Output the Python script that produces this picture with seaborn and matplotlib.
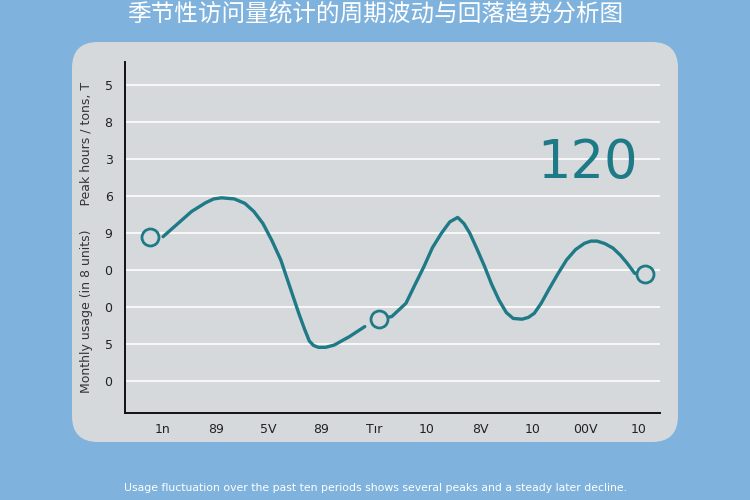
import numpy as np
import pandas as pd
import matplotlib
matplotlib.use('Agg')
import matplotlib.pyplot as plt
from matplotlib.patches import FancyBboxPatch
import seaborn as sns

# values (x in tick steps, y in gridline steps)
seg_a_x = [0.00, 0.27, 0.54, 0.81, 0.96, 1.11, 1.35, 1.55, 1.72, 1.89, 2.06, 2.23, 2.40,
           2.57, 2.68, 2.77, 2.85, 2.94, 3.08, 3.24, 3.53, 3.82]
seg_a_y = [3.90, 4.24, 4.58, 4.82, 4.92, 4.95, 4.92, 4.80, 4.58, 4.26, 3.80, 3.27, 2.55,
           1.83, 1.40, 1.08, 0.96, 0.91, 0.91, 0.97, 1.20, 1.47]
seg_b_x = [4.08, 4.33, 4.60, 4.77, 4.94, 5.10, 5.27, 5.43, 5.58, 5.70, 5.81, 5.95, 6.09,
           6.22, 6.36, 6.50, 6.63, 6.80, 6.92, 7.03, 7.16, 7.30, 7.47, 7.64, 7.81, 7.98,
           8.10, 8.22, 8.37, 8.52, 8.66, 8.79, 8.93, 9.13]
seg_b_y = [1.68, 1.74, 2.10, 2.60, 3.09, 3.60, 3.99, 4.30, 4.42, 4.25, 3.99, 3.55, 3.09,
           2.62, 2.19, 1.85, 1.69, 1.67, 1.72, 1.83, 2.10, 2.46, 2.88, 3.27, 3.55, 3.72,
           3.78, 3.78, 3.71, 3.59, 3.40, 3.18, 2.91, 2.88]
marker_x = [-0.25, 4.08, 9.13]
marker_y = [3.90, 1.68, 2.88]

x_ticks = list(range(10))
x_labels = ["1n", "89", "5V", "89", "Tır", "10", "8V", "10", "00V", "10"]
y_ticks = list(range(9))
y_labels = ["0", "5", "0", "0", "9", "6", "3", "8", "5"]

title = "季节性访问量统计的周期波动与回落趋势分析图"
ylabel = "Monthly usage (in 8 units)      Peak hours / tons, T"
caption = "Usage fluctuation over the past ten periods shows several peaks and a steady later decline."
big_number = "120"

bg = "#7fb3dd"
panel = "#d6d9db"
teal = "#1d7a86"

sns.set_style("white")
plt.rcParams['font.family'] = ['DejaVu Sans', 'Noto Sans CJK SC']

fig = plt.figure(figsize=(7.5, 5), dpi=100, facecolor=bg)

# rounded grey card behind the chart (pixel coords)
card = FancyBboxPatch((72, 58), 606, 400, boxstyle="round,pad=0,rounding_size=26",
                      transform=None, facecolor=panel, edgecolor="none", zorder=-5)
fig.patches.append(card)

ax = fig.add_axes([125 / 750, 87 / 500, 535 / 750, 351 / 500])
ax.set_zorder(2)
ax.patch.set_alpha(0)

df_a = pd.DataFrame({"x": seg_a_x, "y": seg_a_y})
df_b = pd.DataFrame({"x": seg_b_x, "y": seg_b_y})
line_kw = dict(color=teal, lw=2.4, sort=False, zorder=3)
sns.lineplot(data=df_a, x="x", y="y", ax=ax, **line_kw)
sns.lineplot(data=df_b, x="x", y="y", ax=ax, **line_kw)
for l in ax.lines:
    l.set_solid_joinstyle("round")
    l.set_solid_capstyle("round")
sns.scatterplot(x=marker_x, y=marker_y, ax=ax, s=150, facecolor=panel, edgecolor=teal,
                linewidth=2.0, zorder=4)

ax.set_xlim(-0.72, 9.41)
ax.set_ylim(-0.865, 8.62)
ax.set_xticks(x_ticks)
ax.set_xticklabels(x_labels, fontsize=9, color="#222222")
ax.set_yticks(y_ticks)
ax.set_yticklabels(y_labels, fontsize=9, color="#222222")
ax.tick_params(axis="both", direction="inout", length=6, width=1.2, color="#111111")
ax.tick_params(axis="y", pad=6)
ax.tick_params(axis="x", pad=4)
ax.grid(axis="y", color="white", lw=1.3, alpha=0.9)
ax.grid(axis="x", visible=False)
ax.set_axisbelow(True)
for s in ["top", "right"]:
    ax.spines[s].set_visible(False)
for s in ["left", "bottom"]:
    ax.spines[s].set_color("#111111")
    ax.spines[s].set_linewidth(1.4)
ax.set_xlabel("")
ax.set_ylabel(ylabel, fontsize=9, color="#333333", labelpad=8)

ax.text(0.865, 0.712, big_number, transform=ax.transAxes, fontsize=38, color=teal,
        ha="center", va="center", family="DejaVu Sans")

fig.text(0.5, 0.972, title, ha="center", va="center", fontsize=17, color="white",
         family=["Noto Sans CJK SC", "DejaVu Sans"])
fig.text(0.5, 0.024, caption, ha="center", va="center", fontsize=7.8, color="white")

fig.savefig("out.png", dpi=100, facecolor=bg)
